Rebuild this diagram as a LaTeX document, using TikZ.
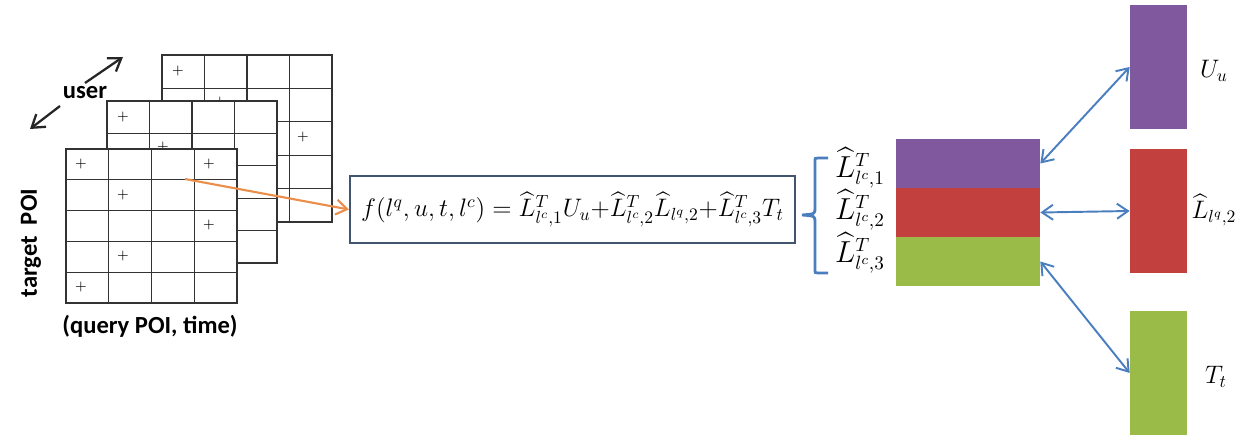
\documentclass[tikz,border=0pt]{standalone}
\usepackage{amsmath}
\usepackage{fontspec}
\setsansfont{Carlito}
\usetikzlibrary{arrows.meta,positioning,calc}
\newcommand{\lcat}[1]{\widehat{L}^{T}_{l^c,#1}}
\newcommand{\lqry}{\widehat{L}_{l^q,2}}
% one slice of the user x (query POI, time) x target POI tensor
\newcommand{\poigrid}[4]{%
  \filldraw[cell,fill=white] (#1,#2) rectangle (#3,#4);
  \foreach \i in {1,2,3}
    \draw[cell] ({#1+\i*(#3-#1)/4},#2) -- ({#1+\i*(#3-#1)/4},#4);
  \foreach \j in {1,2,3,4}
    \draw[cell] (#1,{#2+\j*(#4-#2)/5}) -- (#3,{#2+\j*(#4-#2)/5});
}
\colorlet{colorGRID}{black!80}
\colorlet{colorUSR}{black!85}
\definecolor{colorVU}{RGB}{127,88,158}
\definecolor{colorVL}{RGB}{194,64,62}
\definecolor{colorVT}{RGB}{155,187,72}
\definecolor{colorLNK}{RGB}{74,126,190}
\definecolor{colorQRY}{RGB}{234,142,74}
\definecolor{colorBOX}{RGB}{66,84,110}
\tikzset{
   cell/.style={draw=colorGRID,line width=0.6pt},
   pls/.style={inner sep=0pt,font=\footnotesize},
   lbl/.style={font=\sffamily\bfseries\fontsize{14}{16}\selectfont},
   usr/.style={-{Straight Barb[length=2.4mm,width=3.2mm]},line width=1.3pt,color=colorUSR},
   qry/.style={-{Straight Barb[length=2.2mm,width=3mm]},line width=1.2pt,color=colorQRY},
   lnk/.style={{Straight Barb[length=2.2mm,width=3mm]}-{Straight Barb[length=2.2mm,width=3mm]},line width=1.1pt,color=colorLNK},
   brc/.style={line width=1.6pt,color=colorLNK},
   fbox/.style={draw=colorBOX,line width=1.2pt,minimum width=8.9cm,minimum height=1.34cm,font=\fontsize{14}{16}\selectfont},
   seg/.style={minimum width=2.88cm,minimum height=0.98cm,inner sep=0pt},
   vec/.style={minimum width=1.14cm,minimum height=2.48cm,inner sep=0pt},
   mlab/.style={inner sep=1pt,font=\fontsize{14}{16}\selectfont},
   slab/.style={inner sep=0pt,font=\fontsize{16}{18}\selectfont},
}

\begin{document}
\begin{tikzpicture}[x=0.02cm, y=-0.02cm]
    \useasboundingbox (0,0) rectangle (1255,442);

    % tensor slices, back to front
    \poigrid{162}{55}{332}{222}
    \node[pls] (pba) at (178,71)  {+};
    \node[pls] (pbb) at (220,102) {+};
    \node[pls] (pbc) at (303,137) {+};

    \poigrid{107}{101}{277}{263}
    \node[pls] (pma) at (123,117) {+};
    \node[pls] (pmb) at (163,147) {+};

    \poigrid{66}{149}{237}{303}
    \node[pls] (pfa) at (81,164)  {+};
    \node[pls] (pfb) at (209,164) {+};
    \node[pls] (pfc) at (123,195) {+};
    \node[pls] (pfd) at (209,225) {+};
    \node[pls] (pfe) at (123,256) {+};
    \node[pls] (pff) at (81,287)  {+};

    \node[lbl] (user) at (85,93) {user};
    \coordinate (usra) at (85,83);
    \coordinate (usrb) at (123,57);
    \coordinate (usrc) at (60,106);
    \coordinate (usrd) at (30,129);
    \draw[usr] (usra) -- (usrb);
    \draw[usr] (usrc) -- (usrd);

    \node[lbl,rotate=90] (tpoi) at (31,243) {target\ \ POI};
    \node[lbl] (qpoi) at (150,326) {(query POI, time)};

    % score function
    \node[fbox] (score) at (572.5,209.5)
        {$f(l^q,u,t,l^c)=\lcat{1}U_u{+}\lcat{2}\lqry{+}\lcat{3}T_t$};
    \coordinate (cella) at (185,179);
    \draw[qry] (cella) -- (score.west);

    % query POI vector split in three parts
    \draw[brc] (828,158) -- (818,158) .. controls (815,158) .. (815,162) -- (815,208)
        .. controls (815,214) .. (802,215) .. controls (815,216) .. (815,222) -- (815,269)
        .. controls (815,273) .. (818,273) -- (828,273);
    \node[slab] (lca) at (860,168) {$\lcat{1}$};
    \node[slab] (lcb) at (860,210) {$\lcat{2}$};
    \node[slab] (lcc) at (860,253) {$\lcat{3}$};

    \node[seg,fill=colorVU] (bara) at (968,163.5) {};
    \node[seg,fill=colorVL] (barb) at (968,212.5) {};
    \node[seg,fill=colorVT] (barc) at (968,261.5) {};

    % user, query POI and time vectors
    \node[vec,fill=colorVU] (vecu) at (1158.5,67)  {};
    \node[vec,fill=colorVL] (vecl) at (1158.5,211) {};
    \node[vec,fill=colorVT] (vect) at (1158.5,373) {};

    \node[mlab] (labu) at (1214,71)  {$U_u$};
    \node[mlab] (labl) at (1214,210) {$\lqry$};
    \node[mlab] (labt) at (1216,377) {$T_t$};

    \draw[lnk] (bara.east) -- (vecu.west);
    \draw[lnk] (barb.east) -- (vecl.west);
    \draw[lnk] (barc.east) -- (vect.west);

\end{tikzpicture}
\end{document}
